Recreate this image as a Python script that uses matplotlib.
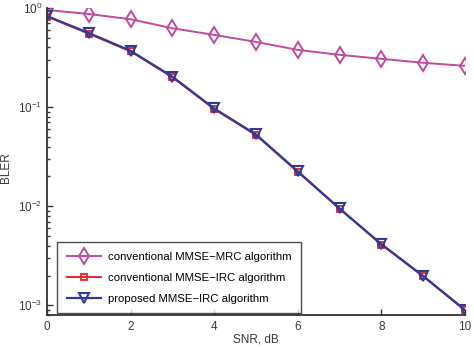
import matplotlib
matplotlib.use("Agg")
import matplotlib.pyplot as plt
import numpy as np

plt.rcParams['font.family'] = ['Liberation Sans', 'DejaVu Sans']

snr_db = [0, 1, 2, 3, 4, 5, 6, 7, 8, 9, 10]
bler_mrc = [0.955, 0.87, 0.77, 0.625, 0.535, 0.455, 0.378, 0.337, 0.307, 0.28, 0.261]
bler_irc_conv = [0.82, 0.55, 0.365, 0.200, 0.0955, 0.0522, 0.0222, 0.0094, 0.0041, 0.00196, 0.00089]
bler_irc_prop = [0.83, 0.56, 0.37, 0.203, 0.097, 0.053, 0.0225, 0.0095, 0.00415, 0.00198, 0.0009]

labels = ['conventional MMSE\u2212MRC algorithm',
          'conventional MMSE\u2212IRC algorithm',
          'proposed MMSE\u2212IRC algorithm']

c_mrc = '#c04a9e'
c_conv = '#e8202a'
c_prop = '#313a94'
axis_c = '#333333'

fig = plt.figure(figsize=(4.74, 3.47), dpi=100)
ax = fig.add_axes([47/474, 1 - 315/347, (465 - 47)/474, (315 - 8)/347])

ax.plot(snr_db, bler_mrc, color=c_mrc, lw=1.4, marker='d', ms=8,
        mfc='none', mec=c_mrc, mew=1.4, label=labels[0])
ax.plot(snr_db, bler_irc_conv, color=c_conv, lw=1.4, marker='s', ms=4.5,
        mfc='none', mec=c_conv, mew=1.3, label=labels[1])
ax.plot(snr_db, bler_irc_prop, color=c_prop, lw=1.6, marker='v', ms=7,
        mfc='none', mec=c_prop, mew=1.5, label=labels[2])

ax.set_yscale('log')
ax.set_xlim(0, 10)
ax.set_ylim(8e-4, 1)
ax.set_xticks([0, 2, 4, 6, 8, 10])

for side in ['top', 'right']:
    ax.spines[side].set_visible(False)
for side in ['left', 'bottom']:
    ax.spines[side].set_color(axis_c)
    ax.spines[side].set_linewidth(1.3)

ax.tick_params(which='both', direction='in', colors=axis_c, labelcolor='#3a3a3a',
               labelsize=8.5, width=1.0)
ax.tick_params(which='major', length=4)
ax.tick_params(which='minor', length=2.5)
ax.tick_params(axis='x', pad=4)

ax.set_xlabel('SNR, dB', fontsize=8.5, color='#3a3a3a', labelpad=1)
ax.set_ylabel('BLER', fontsize=8.5, color='#3a3a3a')
ax.yaxis.set_label_coords(-0.083, 0.48)

leg = ax.legend(loc='lower left', bbox_to_anchor=(0.02, 0.0), fontsize=8.2,
                frameon=True, fancybox=False, edgecolor='#222222',
                handlelength=3.0, borderpad=0.85, labelspacing=0.95,
                handletextpad=0.6, borderaxespad=0.15)
leg.get_frame().set_linewidth(1.0)

fig.savefig('out.png', dpi=100)
